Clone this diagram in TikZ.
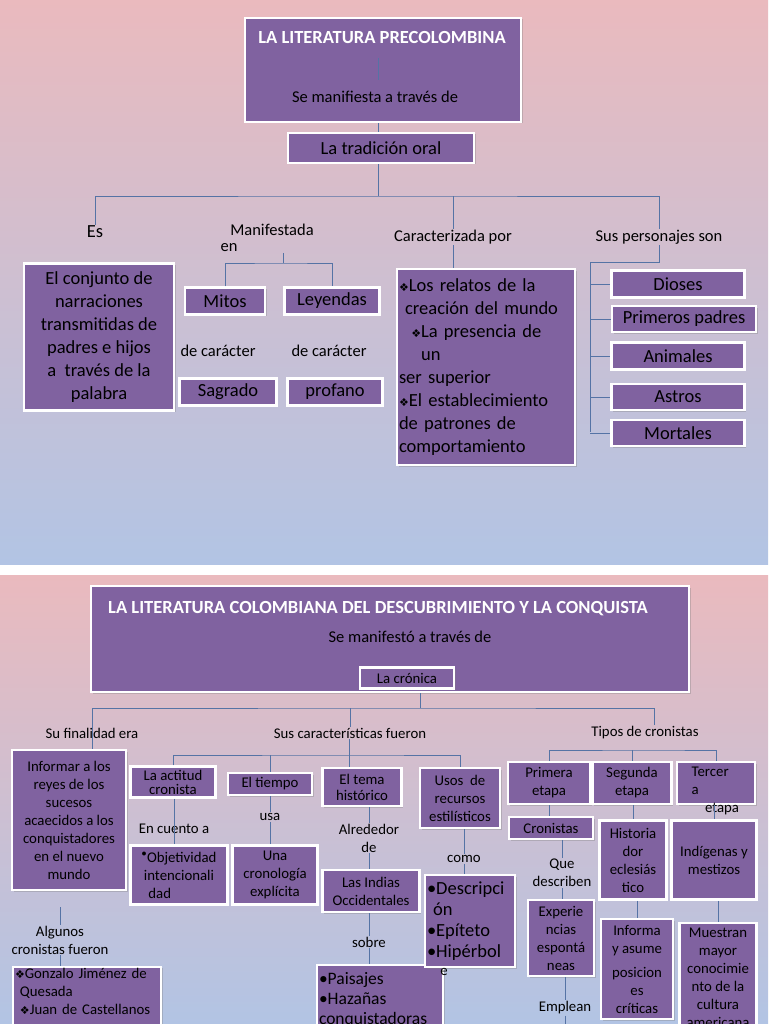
\documentclass[tikz,border=0pt]{standalone}
\usepackage{fontspec}
\setmainfont{Carlito}
\newfontfamily\symfont{DejaVu Sans}
\newcommand{\dia}{{\symfont\fontsize{11}{10}\selectfont ❖}}
\lefthyphenmin=62
\usetikzlibrary{shadows}
\definecolor{boxpurple}{RGB}{128,98,160}
\definecolor{linkblue}{RGB}{85,115,165}
\definecolor{bgtop}{RGB}{234,186,190}
\definecolor{bgbot}{RGB}{178,196,228}

\begin{document}
\begin{tikzpicture}[x=1pt,y=-1pt,
    box/.style={draw=white, line width=2.5pt, fill=boxpurple, inner xsep=2pt, inner ysep=1pt, align=center,
      drop shadow={opacity=.35, shadow xshift=1.5pt, shadow yshift=-1.5pt}},
    lbl/.style={align=center, inner sep=1pt, font=\fontsize{16.5}{18}\selectfont},
    big/.style={font=\fontsize{18.5}{23}\selectfont},
    small/.style={font=\fontsize{14.8}{18}\selectfont},
    link/.style={draw=linkblue, line width=0.8pt}]
    \useasboundingbox (0,0) rectangle (768,1024);
    % Background of both slides
    \fill[white] (0,0) rectangle (768,1024);
    \shade[top color=bgtop, bottom color=bgbot] (0,0) rectangle (768,564);
    \shade[top color=bgtop, bottom color=bgbot] (0,575) rectangle (768,1024);

    % First slide
    \node[box, minimum width=276, minimum height=104] (title1) at (383,70) {};
    \node[lbl, text=white, font=\bfseries\fontsize{18.5}{20}\selectfont] (title1txt) at (382,38) {LA LITERATURA PRECOLOMBINA};
    \node[lbl] (manif1) at (375,97) {Se manifiesta a través de};
    \coordinate (t1a) at (378,58);
    \coordinate (t1b) at (378,80);
    \node[box, big, minimum width=186, minimum height=30] (oral) at (381,148) {La tradición oral};
    \coordinate (j1) at (378,196);

    \node[lbl, big] (es) at (95,232) {Es};
    \node[box, big, minimum width=150, minimum height=147] (conjunto) at (99,337) {El conjunto de\\narraciones\\transmitidas de\\padres e hijos\\a~ través de la\\palabra};

    \node[lbl] (mfest) at (272,238) {Manifestada\\[-2pt]\hspace*{-5.2em}en};
    \coordinate (j2) at (283,263);
    \node[box, big, minimum width=80, minimum height=27] (mitos) at (225,301) {Mitos};
    \node[box, big, minimum width=95, minimum height=27] (leyendas) at (332,301) {Leyendas};
    \node[lbl] (carac1) at (218,351) {de carácter};
    \node[lbl] (carac2) at (329,351) {de carácter};
    \node[box, big, minimum width=97, minimum height=27] (sagrado) at (228,392) {Sagrado};
    \node[box, big, minimum width=95, minimum height=27] (profano) at (335,392) {profano};

    \node[lbl] (caract) at (453,237) {Caracterizada por};
    \node[box, big, text width=174, minimum height=196, align=left] (relatos) at (486,367)
      {\dia Los relatos de la\\ \ creación del mundo\\ \ \ \dia La presencia de\\ \hspace*{1.2em}un\\ ser superior\\ \dia El establecimiento\\ de patrones de\\ comportamiento};

    \node[lbl] (perso) at (659,237) {Sus personajes son};
    \coordinate (j3) at (590,262);
    \coordinate (j3b) at (590,432);
    \node[box, big, minimum width=133, minimum height=27] (dioses) at (678,284) {Dioses};
    \node[box, big, minimum width=144, minimum height=26] (padres) at (684,319) {Primeros padres};
    \node[box, big, minimum width=133, minimum height=27] (animales) at (678,356) {Animales};
    \node[box, big, minimum width=133, minimum height=26] (astros) at (678,397) {Astros};
    \node[box, big, minimum width=133, minimum height=26] (mortales) at (678,433) {Mortales};

    \draw[link] (t1a) -- (t1b);
    \draw[link] (oral.north -| t1a) -- (title1.south -| t1a);
    \draw[link] (oral.south -| j1) -- (j1);
    \draw[link] (es.north) |- (j1) -| (perso.north);
    \draw[link] (mfest.north -| j2) -- (mfest.north -| j2 |- j1);
    \draw[link] (caract.north) -- (caract.north |- j1);
    \draw[link] (caract.south) -- (relatos.north -| caract.south);
    \draw[link] (mfest.south -| j2) -- (j2);
    \draw[link] (mitos.north) |- (j2) -| (leyendas.north);
    \draw[link] (perso.south) -- (perso.south |- j3) -- (j3) -- (j3b);
    \foreach \n in {dioses,padres,animales,astros,mortales}
      \draw[link] (j3 |- \n.west) -- (\n.west);

    % Second slide
    \node[box, minimum width=598, minimum height=106] (title2) at (390,639) {};
    \node[lbl, text=white, font=\bfseries\fontsize{18.5}{20}\selectfont] (title2txt) at (378,609) {LA LITERATURA COLOMBIANA DEL DESCUBRIMIENTO Y LA CONQUISTA};
    \node[lbl] (manif2) at (410,637) {Se manifestó a través de};
    \node[box, small, minimum width=94, minimum height=21] (cronica) at (407,678) {La crónica};
    \coordinate (k1) at (420,708);

    \node[lbl, small] (finalidad) at (92,733) {Su finalidad era};
    \node[box, small, minimum width=114, minimum height=140] (informar) at (69,820) {Informar a los\\reyes de los\\sucesos\\acaecidos a los\\conquistadores\\en el nuevo\\mundo};
    \coordinate (alg) at (60,907);
    \node[lbl, small] (algunos) at (60,940) {Algunos\\cronistas fueron};
    \node[box, small, text width=144, minimum height=60, align=left] (gonzalo) at (87,1000) {\dia Gonzalo Jiménez de\\ \ Quesada\\ \ \dia Juan de Castellanos\\ \ };

    \node[lbl, small] (caract2) at (350,733) {Sus características fueron};
    \coordinate (k2) at (349,755);
    \node[box, small, minimum width=85, minimum height=31] (actitud) at (173,782) {La actitud\\[-4pt]cronista};
    \node[box, small, minimum width=84, minimum height=22] (tiempo) at (270,784) {El tiempo};
    \node[box, small, minimum width=79, minimum height=38] (tema) at (362,787) {El tema\\[-2pt]histórico};
    \node[box, small, minimum width=80, minimum height=60] (usos) at (460,798) {Usos~ de\\recursos\\estilísticos};

    \node[lbl, small] (cuento) at (174,829) {En cuento a};
    \node[box, small, minimum width=97, minimum height=59] (objetividad) at (179,875) {$^{\bullet}$Objetividad\\ intencionali\\\hspace*{-2.6em}dad};
    \node[lbl, small] (usa) at (270,817) {usa};
    \node[box, small, minimum width=85, minimum height=59] (cronologia) at (275,875) {Una\\cronología\\explícita};
    \node[lbl, small] (alrededor) at (369,838) {Alrededor\\de};
    \node[box, small, minimum width=97, minimum height=42] (indias) at (371,891) {Las Indias\\Occidentales};
    \node[lbl, small] (sobre) at (369,942) {sobre};
    \node[box, font=\fontsize{17.5}{20}\selectfont, text width=122, minimum height=70, align=left] (paisajes) at (380,1000) {•Paisajes\\•Hazañas\\conquistadoras};
    \node[lbl, small] (como) at (464,859) {como};
    \node[box, font=\fontsize{18.5}{21}\selectfont, text width=86, minimum height=92, align=left] (descrip) at (470,921) {•Descripci\\\ ón\\•Epíteto\\•Hipérbol};
    \node[lbl, small] (e) at (444,972) {e};

    \node[lbl, small] (tipos) at (645,733) {Tipos de cronistas};
    \coordinate (k3) at (654,750);
    \node[box, small, minimum width=82, minimum height=42] (primera) at (549,783) {Primera\\etapa};
    \node[box, small, minimum width=79, minimum height=42] (segunda) at (632,783) {Segunda\\etapa};
    \node[box, small, minimum width=78, minimum height=42] (tercera) at (716,783) {};
    \node[lbl, small, align=left] (terceratxt) at (712,791) {\ \ Tercer\\\ \ a\\\ \ \ \ \ \ etapa};
    \node[box, small, minimum width=84, minimum height=22] (cronistas) at (551,828) {Cronistas};
    \node[lbl, small] (describen) at (562,873) {Que\\describen};
    \node[box, small, minimum width=66, minimum height=76] (experiencias) at (561,938) {Experie\\ncias\\espontá\\neas};
    \node[lbl, small] (emplean) at (565,1008) {Emplean};
    \node[box, small, minimum width=67, minimum height=79] (historiador) at (633,860) {Historia\\dor\\eclesiás\\tico};
    \node[box, small, minimum width=85, minimum height=79] (indigenas) at (714,860) {Indígenas y\\mestizos};
    \node[box, small, minimum width=72, minimum height=100] (informa) at (637,969) {Informa\\y asume\\[6pt]posicion\\es\\críticas};
    \node[box, small, minimum width=77, minimum height=110] (muestran) at (718,978) {Muestran\\mayor\\conocimie\\nto de la\\cultura\\americana};

    \draw[link] (title2.south -| k1) -- (k1);
    \draw[link] (finalidad.north) |- (k1) -| (k3 |- k1);
    \draw[link] (k3 |- k1) -- (k3 |- tipos.north);
    \draw[link] (caract2.north) -- (caract2.north |- k1);
    \draw[link] (finalidad.north) -- (informar.north -| finalidad.north);
    \draw[link] (caract2.south -| k2) -- (tema.north -| k2);
    \draw[link] (actitud.north) |- (k2) -| (usos.north);
    \draw[link] (tiempo.north) -- (tiempo.north |- k2);
    \draw[link] (alg) -- (algunos.north -| alg);
    \draw[link] (algunos.south -| alg) -- (gonzalo.north -| alg);
    \draw[link] (actitud.south -| cuento) -- (objetividad.north -| cuento);
    \draw[link] (tiempo.south) -- (usa.north);
    \draw[link] (usa.south) -- (cronologia.north -| usa.south);
    \draw[link] (tema.south -| alrededor) -- (alrededor.north);
    \draw[link] (alrededor.south) -- (indias.north -| alrededor.south);
    \draw[link] (indias.south -| sobre) -- (sobre.north);
    \draw[link] (sobre.south) -- (paisajes.north -| sobre.south);
    \draw[link] (usos.south -| como) -- (como.north);
    \draw[link] (como.south) -- (descrip.north -| como.south);
    \draw[link] (primera.north) |- (k3) -| (tercera.north);
    \draw[link] (segunda.north) -- (segunda.north |- k3);
    \draw[link] (primera.south) -- (cronistas.north -| primera.south);
    \draw[link] (cronistas.south -| describen) -- (describen.north);
    \draw[link] (describen.south) -- (experiencias.north -| describen.south);
    \draw[link] (experiencias.south -| emplean) -- (emplean.north);
    \draw[link] (emplean.south) -- ++(0,10);
    \draw[link] (segunda.south -| historiador) -- (historiador.north);
    \draw[link] (historiador.south -| informa) -- (informa.north);
    \draw[link] (tercera.south -| indigenas) -- (indigenas.north);
    \draw[link] (indigenas.south -| muestran) -- (muestran.north);
\end{tikzpicture}
\end{document}
